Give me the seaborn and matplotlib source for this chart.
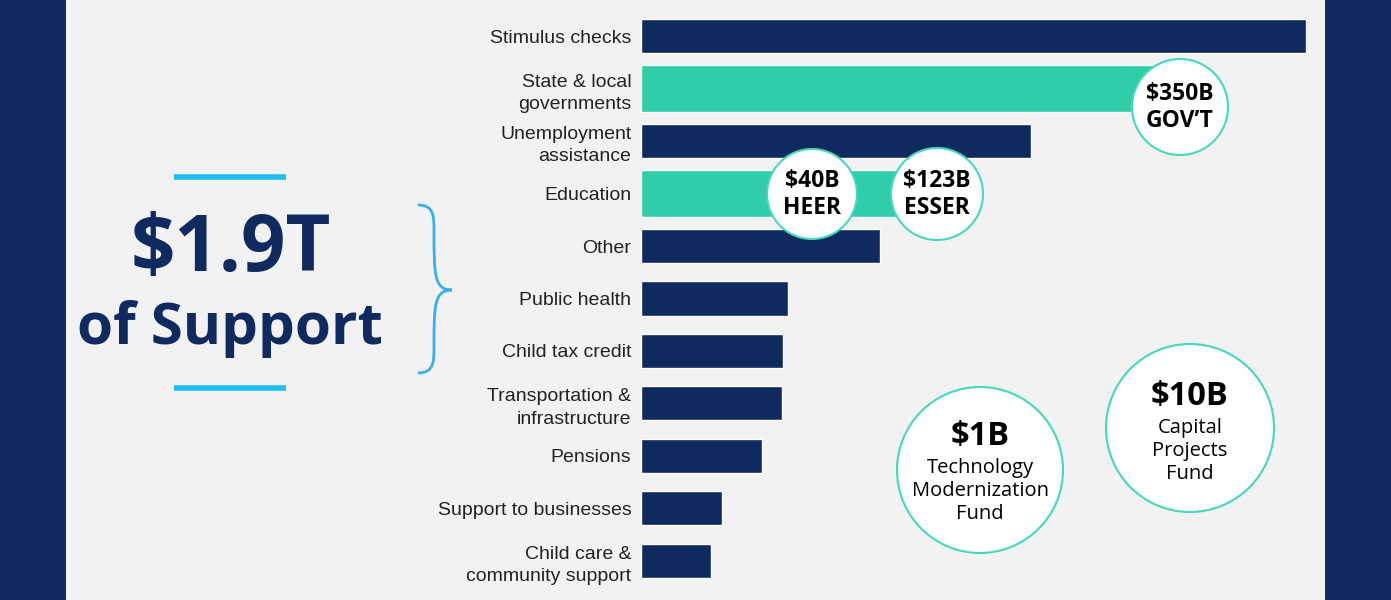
import matplotlib
matplotlib.use("Agg")
import matplotlib.pyplot as plt
from matplotlib.patches import Circle, PathPatch
from matplotlib.path import Path
import seaborn as sns

# bar data (billions of dollars)
categories = ["Stimulus checks", "State & local\ngovernments", "Unemployment\nassistance",
              "Education", "Other", "Public health", "Child tax credit",
              "Transportation &\ninfrastructure", "Pensions", "Support to businesses",
              "Child care &\ncommunity support"]
values = [411, 350, 241, 176, 148, 91, 88, 87, 75, 50, 43]
highlighted = ["State & local\ngovernments", "Education"]

# call-out bubbles
bubble_big = ["$350B", "$40B", "$123B"]
bubble_small = ["GOV\u2019T", "HEER", "ESSER"]
fund_amounts = ["$1B", "$10B"]
fund_names = ["Technology\nModernization\nFund", "Capital\nProjects\nFund"]

navy = "#0e2a5f"
teal = "#2fcea8"
ring = "#45d9bb"
cyan = "#1cbdf2"
W, H = 1391, 600

sns.set_theme(style="white")
plt.rcParams['font.family'] = ['Liberation Sans', 'DejaVu Sans']

fig = plt.figure(figsize=(W / 100, H / 100), dpi=100, facecolor=navy)

# light panel behind everything
bg = fig.add_axes([66 / W, 0, (1325 - 66) / W, 1])
bg.set_facecolor("#f2f2f2")
bg.set_xticks([])
bg.set_yticks([])
for s in bg.spines.values():
    s.set_visible(False)

# bars
ax = fig.add_axes([641 / W, 13 / H, 665 / W, 577 / H])
ax.patch.set_alpha(0)
navy_cats = [c for c in categories if c not in highlighted]
navy_vals = [v for c, v in zip(categories, values) if c not in highlighted]
teal_vals = [v for c, v in zip(categories, values) if c in highlighted]
sns.barplot(x=navy_vals, y=navy_cats, order=categories, color=navy, width=0.65,
            saturation=1, orient="h", ax=ax)
sns.barplot(x=teal_vals, y=highlighted, order=categories, color=teal, width=0.9,
            saturation=1, orient="h", ax=ax)
ax.set_xlim(0, 411)
ax.set_ylim(len(categories) - 0.5, -0.5)
ax.set_xticks([])
ax.set_xlabel("")
ax.set_ylabel("")
ax.tick_params(axis="y", length=0, pad=7, labelsize=14, labelcolor="#222222")
for lab in ax.get_yticklabels():
    lab.set_linespacing(1.4)
    lab.set_multialignment("right")
for s in ax.spines.values():
    s.set_visible(False)

# overlay in pixel coordinates for the annotations
ov = fig.add_axes([0, 0, 1, 1])
ov.set_xlim(0, W)
ov.set_ylim(H, 0)
ov.axis("off")
ov.patch.set_alpha(0)

title_font = ['Open Sans', 'DejaVu Sans']
ov.text(231, 271, "$1.9T", ha="center", va="baseline", fontsize=56, fontweight="bold",
        color=navy, family=title_font)
ov.text(230, 344, "of Support", ha="center", va="baseline", fontsize=42, fontweight="bold",
        color=navy, family=title_font)
ov.plot([174, 286], [177, 177], color=cyan, lw=4, solid_capstyle="butt")
ov.plot([174, 286], [388, 388], color=cyan, lw=4, solid_capstyle="butt")

# curly brace
verts = [(418, 205), (434, 205), (434, 216), (434, 232),
         (434, 274), (434, 290), (452, 290),
         (434, 290), (434, 306), (434, 346),
         (434, 362), (434, 373), (418, 373)]
codes = [Path.MOVETO] + [Path.CURVE4] * 12
ov.add_patch(PathPatch(Path(verts, codes), fill=False, edgecolor="#3aaff0", lw=2))

bubble_font = ['Open Sans', 'DejaVu Sans']
for (cx, cy, r), big, small in zip([(1180, 107, 48), (812, 194, 45), (937, 194, 46)],
                                   bubble_big, bubble_small):
    ov.add_patch(Circle((cx, cy), r, facecolor="white", edgecolor=ring, lw=1.5))
    ov.text(cx, cy - 13, big, ha="center", va="center", fontsize=16.5, fontweight="bold",
            color="black", family=bubble_font)
    ov.text(cx, cy + 14, small, ha="center", va="center", fontsize=16.5, fontweight="bold",
            color="black", family=bubble_font)

for (cx, cy, r, ty, ny), amt, name in zip([(980, 470, 83, 437, 491), (1190, 428, 84, 396, 451)],
                                          fund_amounts, fund_names):
    ov.add_patch(Circle((cx, cy), r, facecolor="white", edgecolor=ring, lw=1.5))
    ov.text(cx, ty, amt, ha="center", va="center", fontsize=23.5, fontweight="bold",
            color="black", family=bubble_font)
    ov.text(cx, ny, name, ha="center", va="center", fontsize=14.5, color="black",
            family=bubble_font, linespacing=1.2)

fig.savefig("out.png", dpi=100, facecolor=navy)
